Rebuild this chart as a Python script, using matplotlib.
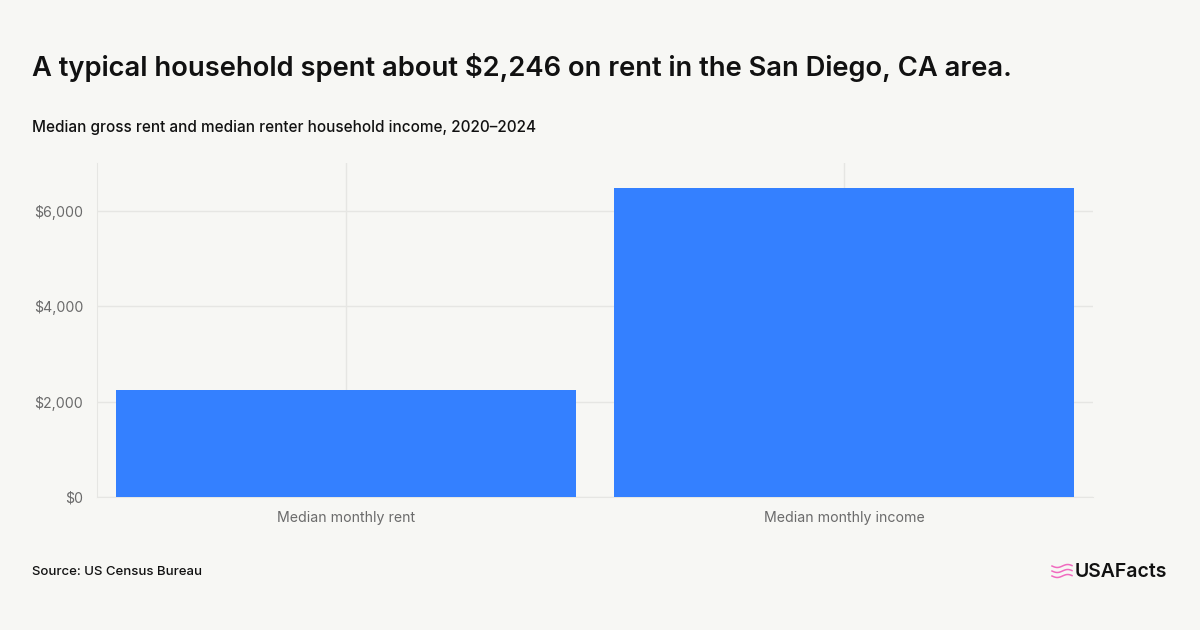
import matplotlib.pyplot as plt
from matplotlib.ticker import FuncFormatter
import numpy as np

categories = ["Median monthly rent", "Median monthly income"]
values = [2246, 6480]
y_ticks = [0, 2000, 4000, 6000]

bg = "#f7f7f4"
bar_color = "#3480ff"
grid_color = "#e6e6e3"

plt.rcParams['font.family'] = ['Inter', 'DejaVu Sans']

fig = plt.figure(figsize=(12, 6.3), dpi=100, facecolor=bg)
ax = fig.add_axes([97 / 1200, 1 - 497 / 630, 996 / 1200, 334 / 630])
ax.set_facecolor(bg)

x = np.arange(len(categories))
ax.bar(x, values, width=0.925, color=bar_color, zorder=3)

ax.set_xlim(-0.5, 1.5)
ax.set_ylim(0, 7000)
ax.set_yticks(y_ticks)
ax.yaxis.set_major_formatter(FuncFormatter(lambda v, p: f"${v:,.0f}"))
ax.set_xticks(x)
ax.set_xticklabels(categories)

ax.grid(True, color=grid_color, linewidth=1, zorder=0)
for s in ["top", "right"]:
    ax.spines[s].set_visible(False)
ax.spines["left"].set_color(grid_color)
ax.spines["bottom"].set_color(grid_color)
ax.tick_params(length=0, labelsize=10.2, labelcolor="#6b6b6b", pad=10)
ax.tick_params(axis="x", pad=10)

fig.text(32 / 1200, 1 - 68 / 630, "A typical household spent about $2,246 on rent in the San Diego, CA area.",
         fontsize=19.7, fontweight="semibold", color="#111111", va="center")
fig.text(32 / 1200, 1 - 128 / 630, "Median gross rent and median renter household income, 2020\u20132024",
         fontsize=11, fontweight="medium", color="#111111", va="center")
fig.text(32 / 1200, 1 - 572 / 630, "Source: US Census Bureau",
         fontsize=9.5, fontweight="medium", color="#111111", va="center")

# logo
fig.text(1167 / 1200, 1 - 572 / 630, "USAFacts", fontsize=14, fontweight="semibold",
         color="#111111", ha="right", va="center")
t = np.linspace(0, 1, 20)
for off in [0, 5, 10]:
    xs = (1052 + 20 * t) / 1200
    ys = 1 - (566 + off + 1.5 * np.sin(t * 6)) / 630
    fig.add_artist(plt.Line2D(xs, ys, color="#f06bbf", linewidth=1.1))

fig.savefig("out.png", dpi=100, facecolor=bg)
